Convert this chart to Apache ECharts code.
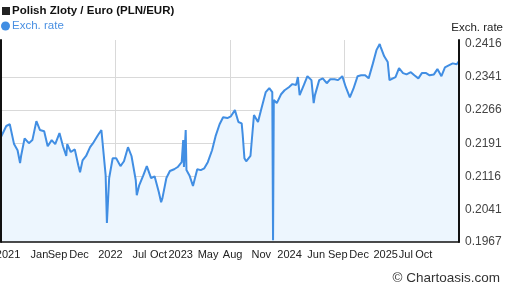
<!DOCTYPE html>
<html><head><meta charset="utf-8">
<script src="https://cdn.jsdelivr.net/npm/echarts@6/dist/echarts.min.js"></script>
<style>html,body{margin:0;padding:0;background:#fff}#c{width:507px;height:288px}</style>
</head><body><div id="c"></div>
<script>
const dates = [
'2020-12-11','2020-12-15','2021-01-01','2021-01-15','2021-02-01','2021-02-15','2021-02-25','2021-03-01','2021-03-15','2021-04-01',
'2021-04-15','2021-05-01','2021-05-15','2021-06-01','2021-06-15','2021-07-01','2021-07-15','2021-08-01','2021-08-15','2021-08-28',
'2021-09-01','2021-09-15','2021-10-01','2021-10-15','2021-10-22','2021-11-01','2021-11-15','2021-12-01','2021-12-15','2022-01-01',
'2022-01-15','2022-02-01','2022-02-06','2022-02-15','2022-03-01','2022-03-15','2022-04-01','2022-04-15','2022-05-01','2022-05-15',
'2022-06-01','2022-06-05','2022-06-15','2022-07-01','2022-07-15','2022-08-01','2022-08-15','2022-09-01','2022-09-10','2022-09-15',
'2022-10-01','2022-10-15','2022-11-01','2022-11-15','2022-12-01','2022-12-07','2022-12-10','2022-12-17','2022-12-20','2023-01-01',
'2023-01-15','2023-02-01','2023-02-15','2023-03-01','2023-03-15','2023-04-01','2023-04-15','2023-05-01','2023-05-15','2023-06-01',
'2023-06-15','2023-07-01','2023-07-15','2023-07-28','2023-08-01','2023-08-08','2023-08-15','2023-09-01','2023-09-15','2023-10-01',
'2023-10-15','2023-11-01','2023-11-15','2023-11-27','2023-11-30','2023-12-03','2023-12-15','2024-01-01','2024-01-15','2024-02-01',
'2024-02-15','2024-03-01','2024-03-08','2024-03-15','2024-04-01','2024-04-15','2024-05-01','2024-05-10','2024-05-15','2024-06-01',
'2024-06-15','2024-07-01','2024-07-15','2024-08-01','2024-08-15','2024-09-01','2024-09-15','2024-10-01','2024-10-15','2024-11-01',
'2024-11-15','2024-12-01','2024-12-15','2025-01-01','2025-01-15','2025-01-28','2025-02-01','2025-02-15','2025-03-01','2025-03-08',
'2025-03-15','2025-04-01','2025-04-15','2025-05-01','2025-05-15','2025-06-01','2025-06-15','2025-07-01','2025-07-15','2025-08-01',
'2025-08-15','2025-09-01','2025-09-15','2025-10-01','2025-10-15','2025-11-01','2025-11-15','2025-12-01','2025-12-10'
];
const rates = [
0.2205,0.2207,0.2230,0.2234,0.2189,0.2175,0.2146,0.2162,0.2202,0.2191,
0.2198,0.2241,0.2221,0.2218,0.2184,0.2198,0.2189,0.2214,0.2184,0.2162,
0.2189,0.2171,0.2177,0.2141,0.2125,0.2152,0.2162,0.2182,0.2193,0.2209,
0.2221,0.2118,0.2010,0.2112,0.2157,0.2157,0.2139,0.2150,0.2182,0.2162,
0.2107,0.2073,0.2096,0.2118,0.2139,0.2112,0.2116,0.2080,0.2057,0.2066,
0.2112,0.2128,0.2132,0.2137,0.2148,0.2198,0.2137,0.2221,0.2130,0.2118,
0.2094,0.2132,0.2130,0.2134,0.2148,0.2175,0.2207,0.2234,0.2250,0.2248,
0.2252,0.2266,0.2239,0.2236,0.2211,0.2157,0.2150,0.2162,0.2255,0.2239,
0.2270,0.2307,0.2316,0.2307,0.1971,0.2289,0.2282,0.2302,0.2311,0.2318,
0.2325,0.2323,0.2341,0.2300,0.2323,0.2343,0.2334,0.2282,0.2300,0.2334,
0.2338,0.2327,0.2336,0.2336,0.2334,0.2343,0.2318,0.2295,0.2314,0.2343,
0.2345,0.2345,0.2338,0.2372,0.2402,0.2416,0.2409,0.2388,0.2375,0.2334,
0.2336,0.2341,0.2361,0.2350,0.2347,0.2352,0.2345,0.2338,0.2350,0.2350,
0.2345,0.2347,0.2359,0.2343,0.2363,0.2368,0.2372,0.2370,0.2377
];
const xTickLabels = ['2021','Jan','Sep','Dec','2022','Jul','Oct','2023','May','Aug','Nov','2024','Jun','Sep','Dec','2025','Jul','Oct'];
const xTickDates = ['2021-01-08','2021-05-13','2021-07-24','2021-10-18','2022-02-20','2022-06-16','2022-08-31','2022-11-27','2023-03-16','2023-06-22','2023-10-14','2024-02-04','2024-05-20','2024-08-14','2024-11-07','2025-02-21','2025-05-12','2025-07-23'];
const xGridDates = ['2022-03-11','2023-06-11','2024-09-10'];
const yTickLabels = ['0.1967','0.2041','0.2116','0.2191','0.2266','0.2341','0.2416'];
const seriesName = 'Exch. rate';
const titleText = 'Polish Zloty / Euro (PLN/EUR)';

const ts = s => { const p = s.split('-').map(Number); return Date.UTC(p[0], p[1]-1, p[2]); };
const xTickTs = xTickDates.map(ts);
const yTickVals = yTickLabels.map(Number);
const nearest = (arr, v) => { let bi = 0, bd = Infinity; arr.forEach((a, i) => { const d = Math.abs(a - v); if (d < bd) { bd = d; bi = i; } }); return bi; };

const FONT = 'Liberation Sans, Arial, sans-serif';
const X_MIN = ts('2020-12-11'), X_MAX = ts('2025-12-10');
const Y_MIN = 0.1967, Y_MAX = 0.2425;
const chart = echarts.init(document.getElementById('c'), null, {renderer: 'canvas'});
chart.setOption({
  animation: false,
  backgroundColor: '#fff',
  textStyle: {fontFamily: FONT},
  title: [
    {text: titleText, left: 12, top: 5, padding: 0,
     textStyle: {fontFamily: FONT, fontSize: 11.5, fontWeight: 'bold', color: '#111'}},
    {text: 'Exch. rate', right: 4, top: 22, padding: 0,
     textStyle: {fontFamily: FONT, fontSize: 11.5, fontWeight: 'normal', color: '#222'}},
    {text: '© Chartoasis.com', right: 7, top: 271, padding: 0,
     textStyle: {fontFamily: FONT, fontSize: 13.5, fontWeight: 'normal', color: '#333'}}
  ],
  graphic: [
    {type: 'rect', left: 2, top: 7, shape: {width: 8, height: 8}, style: {fill: '#222'}}
  ],
  legend: {
    data: [seriesName], left: 1, top: 20, padding: 0, icon: 'circle',
    itemWidth: 9, itemHeight: 9,
    textStyle: {fontFamily: FONT, fontSize: 11.5, color: '#4a90e2', padding: [0, 0, 0, -3]}
  },
  grid: {left: 1, right: 48, top: 40, bottom: 46, containLabel: false, outerBoundsMode: 'none'},
  xAxis: [
    {
      type: 'value', min: X_MIN, max: X_MAX, position: 'bottom', z: 10,
      axisLine: {show: true, onZero: false, lineStyle: {color: '#111', width: 1.5}},
      axisTick: {show: false},
      splitLine: {show: false},
      axisLabel: {
        customValues: xTickTs, hideOverlap: false, margin: 7,
        showMinLabel: true, showMaxLabel: true,
        fontFamily: FONT, fontSize: 11, color: '#222',
        formatter: v => xTickLabels[nearest(xTickTs, v)]
      }
    },
    {
      type: 'value', min: X_MIN, max: X_MAX, position: 'top', z: 0,
      axisLine: {show: false}, axisLabel: {show: false},
      axisTick: {show: false, customValues: xGridDates.map(ts)},
      splitLine: {show: true, lineStyle: {color: '#d9d9d9', width: 1}}
    }
  ],
  yAxis: [
    {
      type: 'value', position: 'right', min: Y_MIN, max: Y_MAX, z: 10,
      axisLine: {show: true, onZero: false, lineStyle: {color: '#111', width: 2}},
      axisTick: {show: false},
      splitLine: {show: false},
      axisLabel: {
        customValues: yTickVals, margin: 6,
        fontFamily: FONT, fontSize: 12, color: '#444',
        formatter: v => yTickLabels[nearest(yTickVals, v)]
      }
    },
    {
      type: 'value', position: 'left', min: Y_MIN, max: Y_MAX, z: 10,
      axisLine: {show: true, onZero: false, lineStyle: {color: '#111', width: 2}},
      axisTick: {show: false}, axisLabel: {show: false}, splitLine: {show: false}
    },
    {
      type: 'value', position: 'left', min: Y_MIN, max: Y_MAX, z: 0,
      axisLine: {show: false}, axisLabel: {show: false},
      axisTick: {show: false, customValues: yTickVals.slice(1, 6)},
      splitLine: {show: true, lineStyle: {color: '#d9d9d9', width: 1}}
    }
  ],
  series: [{
    name: seriesName, type: 'line', xAxisIndex: 0, yAxisIndex: 0,
    data: dates.map((d, i) => [ts(d), rates[i]]),
    showSymbol: false, symbol: 'circle',
    lineStyle: {color: '#418ee3', width: 2},
    itemStyle: {color: '#418ee3'},
    areaStyle: {color: '#edf6fe', opacity: 1, origin: 'start'}
  }]
});
</script>
</body></html>
